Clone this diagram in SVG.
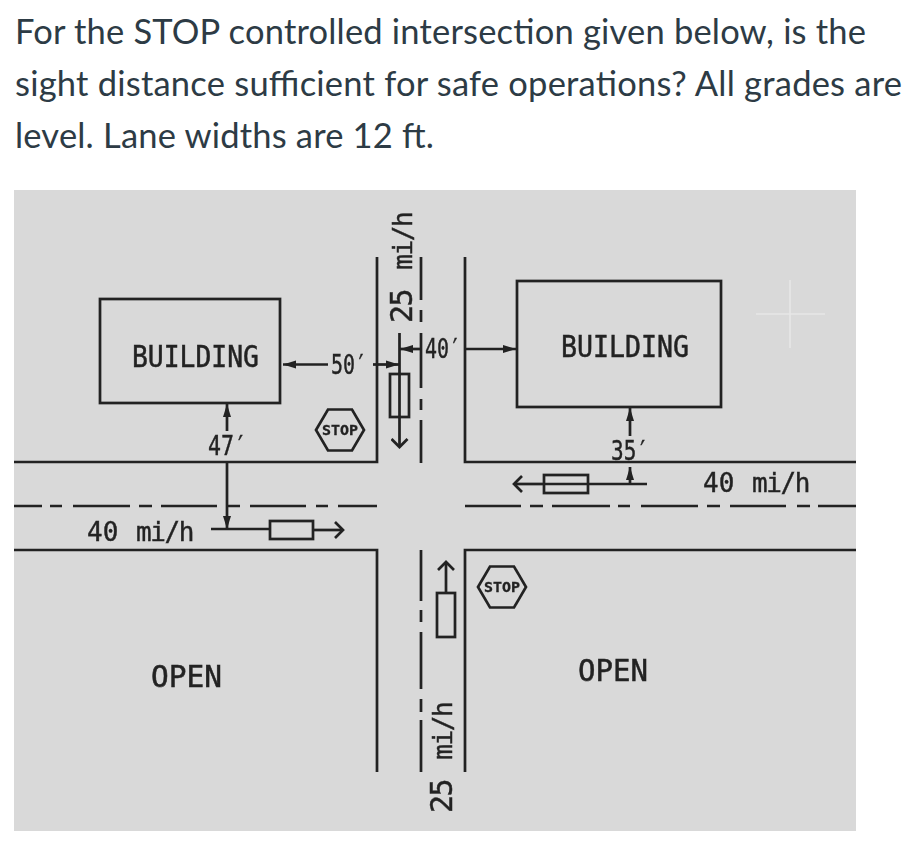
<svg xmlns="http://www.w3.org/2000/svg" width="911" height="845" viewBox="0 0 911 845">
<style>
.q{font-family:Lato,"Open Sans",sans-serif;font-size:34.5px;fill:#2d3b45}
.l{fill:none;stroke:#222;stroke-width:2.7}
.t,.n,.v,.s{font-family:"DejaVu Sans Mono","Liberation Mono",monospace;fill:#222;stroke:#222}
.t{font-size:30px;stroke-width:.5}
.n{font-size:26px;stroke-width:.4}
.v{font-size:30px;stroke-width:.4;letter-spacing:-1.5px}
.s{font-size:14px;font-weight:bold;stroke-width:.3}
.m{letter-spacing:-1.4px}
.w{font-size:26px;letter-spacing:-1.4px}
</style>
<defs>
<filter id="b" x="-5%" y="-5%" width="110%" height="110%"><feGaussianBlur stdDeviation="0.55"/></filter>
<marker id="open" markerWidth="16" markerHeight="18" refX="13" refY="9" orient="auto" markerUnits="userSpaceOnUse"><path d="M5 1L13 9L5 17" fill="none" stroke="#222" stroke-width="2.700"/></marker>
<marker id="fill" markerWidth="14" markerHeight="10" refX="13" refY="5" orient="auto" markerUnits="userSpaceOnUse"><path d="M0 1L13 5L0 9Z" fill="#222"/></marker>
<path id="hex" d="M-24 0L-12-20.500H12L24 0L12 20.500H-12Z"/>
</defs>
<rect width="911" height="845" fill="#fff"/>
<g id="question">
<text class="q" x="15" y="44" textLength="851">For the STOP controlled intersection given below, is the</text>
<text class="q" x="15" y="96" textLength="887">sight distance sufficient for safe operations? All grades are</text>
<text class="q" x="15" y="148" textLength="419">level. Lane widths are 12 ft.</text>
</g>
<rect x="14" y="190" width="842" height="641" fill="#d9d9d9"/>
<path d="M756 314H825M790 280V348" stroke="#e6e6e6" stroke-width="1.600"/>
<g filter="url(#b)">
<g id="roads" class="l">
<path d="M14 462H377V257"/>
<path d="M856 462H465V257"/>
<path d="M14 550H377V772"/>
<path d="M856 550H465V772"/>
<path d="M14 506H42M50 506H62M73 506H130M139 506H152M161 506H217M227 506H240M250 506H306M316 506H328M338 506H377"/>
<path d="M465 506H521M530 506H543M552 506H610M618 506H630M641 506H698M707 506H720M730 506H786M797 506H810M818 506H856"/>
<path d="M421 257V300M421 310V322M421 333V388M421 399V410M421 420V463"/>
<path d="M421 550V601M421 610V622M421 632V689M421 699V712M421 720V772"/>
</g>
<g id="building-nw"><rect class="l" x="100" y="299" width="180" height="104"/><text class="t" x="132" y="367" textLength="127" lengthAdjust="spacingAndGlyphs">BUILDING</text></g>
<g id="building-ne"><rect class="l" x="517" y="281" width="204" height="126"/><text class="t" x="561" y="357" textLength="128" lengthAdjust="spacingAndGlyphs">BUILDING</text></g>
<g id="open-sw"><text class="t" x="151" y="687" textLength="71" lengthAdjust="spacingAndGlyphs">OPEN</text></g>
<g id="open-se"><text class="t" x="578" y="681" textLength="70" lengthAdjust="spacingAndGlyphs">OPEN</text></g>
<g id="stop-nw" transform="translate(340 430)"><use href="#hex" class="l"/><text class="s" x="-18" y="5" textLength="36" lengthAdjust="spacingAndGlyphs">STOP</text></g>
<g id="stop-se" transform="translate(502 587)"><use href="#hex" class="l"/><text class="s" x="-18" y="5" textLength="36" lengthAdjust="spacingAndGlyphs">STOP</text></g>
<g id="car-west"><rect class="l" x="270" y="521" width="43" height="18"/></g>
<g id="car-east"><rect class="l" x="544" y="475" width="44" height="18"/><path class="l" d="M544 484H588"/></g>
<g id="car-north"><rect class="l" x="390" y="374" width="19" height="43"/><path class="l" d="M399.500 374V417"/></g>
<g id="car-south"><rect class="l" x="437" y="593" width="18" height="44"/></g>
<g id="connectors" class="l">
<path d="M313 530H343" marker-end="url(#open)"/>
<path d="M211 529H270"/>
<path d="M647 484H588"/>
<path d="M544 484H514" marker-end="url(#open)"/>
<path d="M399.500 333V374"/>
<path d="M399.500 417V447" marker-end="url(#open)"/>
<path d="M446 593V562" marker-end="url(#open)"/>
<path d="M328 364.500H283" marker-end="url(#fill)"/>
<path d="M373 364.500H399" marker-end="url(#fill)"/>
<path d="M421 349H400" marker-end="url(#fill)"/>
<path d="M465 349H516" marker-end="url(#fill)"/>
<path d="M227 431V404" marker-end="url(#fill)"/>
<path d="M227 462V529" marker-end="url(#fill)"/>
<path d="M630 436V408" marker-end="url(#fill)"/>
<path d="M630 484V467" marker-end="url(#fill)"/>
</g>
<g id="labels">
<text class="n" x="331" y="374" textLength="36" lengthAdjust="spacingAndGlyphs">50′</text>
<text class="n" x="425" y="358" textLength="36" lengthAdjust="spacingAndGlyphs">40′</text>
<text class="n" x="208" y="455" textLength="39" lengthAdjust="spacingAndGlyphs">47′</text>
<text class="n" x="611" y="460" textLength="38" lengthAdjust="spacingAndGlyphs">35′</text>
<text class="n" x="87" y="541">40 <tspan class="m" dx="2">mi/h</tspan></text>
<text class="n" x="703" y="492">40 <tspan class="m" dx="2">mi/h</tspan></text>
<text class="v" transform="translate(412 323) rotate(-90)">25 <tspan class="w" dx="3.500">mi/h</tspan></text>
<text class="v" transform="translate(452 813) rotate(-90)">25 <tspan class="w" dx="3.500">mi/h</tspan></text>
</g>
</g>
</svg>
